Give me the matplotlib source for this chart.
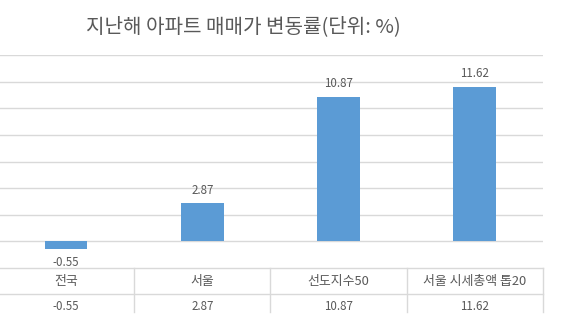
import matplotlib
matplotlib.use('Agg')
import matplotlib.pyplot as plt
import matplotlib.transforms as mtransforms

plt.rcParams['font.family'] = ['Noto Sans CJK KR', 'DejaVu Sans']

title = '지난해 아파트 매매가 변동률(단위: %)'
categories = ['전국', '서울', '선도지수50', '서울 시세총액 톱20']
values = [-0.55, 2.87, 10.87, 11.62]
value_labels = ['-0.55', '2.87', '10.87', '11.62']

bar_color = '#5B9BD5'
grid_color = '#D9D9D9'
text_color = '#595959'

W, H = 570, 320
fig = plt.figure(figsize=(W / 100, H / 100), dpi=100)
# axes: x from 0 to 543 px, y from 55 to 268 px (from top)
ax = fig.add_axes([0, 1 - 268 / H, 543 / W, (268 - 55) / H])

x = list(range(len(categories)))
ax.bar(x, values, width=0.315, color=bar_color, zorder=3)

ax.set_xlim(-0.484, 3.5)
ax.set_ylim(-2, 14)
ax.set_yticks(range(0, 15, 2))
ax.grid(axis='y', color=grid_color, linewidth=1, zorder=0)
ax.tick_params(left=False, bottom=False, labelleft=False, labelbottom=False)
for s in ax.spines.values():
    s.set_visible(False)

# value labels
for xi, v, lab in zip(x, values, value_labels):
    if v >= 0:
        ax.text(xi, v + 0.5, lab, ha='center', va='bottom', fontsize=8.3, color=text_color)
    else:
        ax.text(xi, v - 0.55, lab, ha='center', va='top', fontsize=8.3, color=text_color)

# data table below the axes
trans = mtransforms.blended_transform_factory(ax.transData, ax.transAxes)
h = 268 - 55
y_top = 0
y_mid = -(294 - 268) / h
y_bot = -(312 - 268) / h
line_kw = dict(color=grid_color, linewidth=1, clip_on=False)
ax.plot([0, 1], [y_top, y_top], transform=ax.transAxes, **line_kw)
ax.plot([0, 1], [y_mid, y_mid], transform=ax.transAxes, **line_kw)
for b in [0.5, 1.5, 2.5, 3.5]:
    ax.plot([b, b], [y_top, y_bot], transform=trans, **line_kw)

row1 = -(281 - 268) / h
row2 = -(306 - 268) / h
for xi, cat, lab in zip(x, categories, value_labels):
    ax.text(xi, row1, cat, transform=trans, ha='center', va='center', fontsize=9.3, color=text_color)
    ax.text(xi, row2, lab, transform=trans, ha='center', va='center', fontsize=8.3, color=text_color)

fig.text(243 / W, 1 - 27 / H, title, ha='center', va='center', fontsize=14.5, color=text_color)

fig.savefig('out.png', dpi=100)
